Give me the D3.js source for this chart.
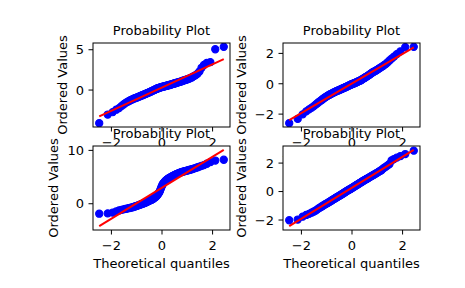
<!DOCTYPE html>
<html>
<head>
<meta charset="utf-8">
<script src="https://cdn.jsdelivr.net/npm/d3@7"></script>
<style>
body { margin: 0; background: #fff; }
svg text { font-family: "DejaVu Sans", sans-serif; font-size: 13px; fill: #000; }
</style>
</head>
<body>
<script>
// ---------------------
// Data (ordered values, 100 samples each)
// ---------------------
var tSmallDf = [
  -4.17, -3.1, -2.8, -2.5, -2.3, -2.05, -1.85, -1.68, -1.55, -1.45,
  -1.35, -1.27, -1.2, -1.13, -1.08, -1.03, -0.98, -0.93, -0.88, -0.83,
  -0.78, -0.74, -0.7, -0.65, -0.61, -0.57, -0.53, -0.49, -0.45, -0.41,
  -0.37, -0.33, -0.29, -0.25, -0.21, -0.17, -0.13, -0.09, -0.05, -0.01,
  0.03, 0.07, 0.1, 0.13, 0.16, 0.19, 0.22, 0.25, 0.28, 0.31,
  0.32, 0.34, 0.36, 0.38, 0.4, 0.42, 0.44, 0.46, 0.48, 0.5,
  0.52, 0.54, 0.57, 0.6, 0.62, 0.65, 0.67, 0.7, 0.72, 0.75,
  0.78, 0.81, 0.84, 0.87, 0.9, 0.93, 0.96, 0.99, 1.02, 1.06,
  1.1, 1.14, 1.18, 1.22, 1.26, 1.31, 1.36, 1.42, 1.5, 1.6,
  1.7, 1.82, 1.98, 2.25, 2.7, 3.05, 3.3, 3.4, 5.0, 5.3
];
var tLargeDf = [
  -2.63, -2.35, -2.05, -1.85, -1.72, -1.62, -1.52, -1.42, -1.33, -1.25,
  -1.18, -1.12, -1.05, -0.99, -0.94, -0.9, -0.85, -0.81, -0.77, -0.74,
  -0.71, -0.68, -0.65, -0.62, -0.6, -0.57, -0.55, -0.52, -0.5, -0.48,
  -0.46, -0.44, -0.42, -0.4, -0.38, -0.36, -0.34, -0.32, -0.3, -0.28,
  -0.26, -0.24, -0.22, -0.2, -0.18, -0.16, -0.14, -0.12, -0.1, -0.08,
  -0.06, -0.05, -0.03, -0.01, 0.0, 0.02, 0.04, 0.06, 0.08, 0.1,
  0.12, 0.14, 0.16, 0.18, 0.2, 0.23, 0.26, 0.29, 0.32, 0.35,
  0.38, 0.41, 0.44, 0.47, 0.5, 0.54, 0.58, 0.62, 0.66, 0.7,
  0.74, 0.77, 0.8, 0.84, 0.88, 0.93, 0.98, 1.03, 1.08, 1.14,
  1.21, 1.28, 1.38, 1.5, 1.62, 1.75, 1.92, 2.1, 2.38, 2.4
];
var normMix = [
  -1.96, -1.9, -1.75, -1.55, -1.35, -1.25, -1.15, -1.07, -1.0, -0.93,
  -0.87, -0.81, -0.75, -0.68, -0.61, -0.55, -0.48, -0.41, -0.35, -0.28,
  -0.22, -0.16, -0.1, -0.04, 0.02, 0.08, 0.14, 0.21, 0.28, 0.35,
  0.42, 0.48, 0.53, 0.59, 0.65, 0.72, 0.79, 0.87, 0.97, 1.09,
  1.15, 1.25, 1.37, 1.53, 1.7, 1.85, 2.05, 2.3, 2.6, 2.9,
  3.22, 3.47, 3.67, 3.82, 3.97, 4.1, 4.22, 4.32, 4.42, 4.52,
  4.6, 4.68, 4.75, 4.82, 4.9, 4.97, 5.04, 5.12, 5.19, 5.26,
  5.32, 5.39, 5.46, 5.52, 5.58, 5.64, 5.7, 5.76, 5.82, 5.88,
  5.93, 5.98, 6.03, 6.08, 6.13, 6.18, 6.24, 6.3, 6.37, 6.45,
  6.54, 6.64, 6.75, 6.87, 7.0, 7.15, 7.4, 7.7, 8.0, 8.15
];
var stdNorm = [
  -2.05, -2.0, -1.8, -1.68, -1.6, -1.52, -1.45, -1.38, -1.3, -1.22,
  -1.16, -1.1, -1.05, -0.99, -0.94, -0.9, -0.86, -0.82, -0.78, -0.74,
  -0.7, -0.66, -0.62, -0.58, -0.55, -0.52, -0.48, -0.45, -0.42, -0.39,
  -0.36, -0.33, -0.3, -0.27, -0.24, -0.21, -0.18, -0.15, -0.12, -0.09,
  -0.06, -0.03, 0.0, 0.03, 0.05, 0.08, 0.1, 0.13, 0.16, 0.18,
  0.21, 0.24, 0.26, 0.29, 0.32, 0.35, 0.38, 0.41, 0.43, 0.46,
  0.49, 0.52, 0.55, 0.58, 0.61, 0.64, 0.67, 0.7, 0.73, 0.76,
  0.79, 0.82, 0.85, 0.88, 0.91, 0.94, 0.98, 1.01, 1.05, 1.08,
  1.12, 1.16, 1.2, 1.24, 1.28, 1.33, 1.38, 1.43, 1.48, 1.58,
  1.65, 1.72, 1.8, 1.9, 2.15, 2.25, 2.35, 2.45, 2.6, 2.84
];

var xTicks = [-2, 0, 2];
var yTicks1 = [0, 5];
var yTicks2 = [-2, 0, 2];
var yTicks3 = [0, 10];
var yTicks4 = [-2, 0, 2];

var titleText = "Probability Plot";
var xLabelText = "Theoretical quantiles";
var yLabelText = "Ordered Values";

// ---------------------
// Layout
// ---------------------
var w = 465, h = 288;
var axW = 137, axH = 84;

var panels = [
  { vals: tSmallDf, yTicks: yTicks1, left: 93,  top: 43 },
  { vals: tLargeDf, yTicks: yTicks2, left: 283, top: 43 },
  { vals: normMix,  yTicks: yTicks3, left: 93,  top: 146 },
  { vals: stdNorm,  yTicks: yTicks4, left: 283, top: 146 }
];

// inverse normal cdf (Acklam)
function normPpf(p) {
  var a = [-3.969683028665376e+01, 2.209460984245205e+02, -2.759285104469687e+02, 1.383577518672690e+02, -3.066479806614716e+01, 2.506628277459239e+00];
  var b = [-5.447609879822406e+01, 1.615858368580409e+02, -1.556989798598866e+02, 6.680131188771972e+01, -1.328068155288572e+01];
  var c = [-7.784894002430293e-03, -3.223964580411365e-01, -2.400758277161838e+00, -2.549732539343734e+00, 4.374664141464968e+00, 2.938163982698783e+00];
  var d = [7.784695709041462e-03, 3.224671290700398e-01, 2.445134137142996e+00, 3.754408661907416e+00];
  var plow = 0.02425, q, r;
  if (p < plow) {
    q = Math.sqrt(-2 * Math.log(p));
    return (((((c[0]*q+c[1])*q+c[2])*q+c[3])*q+c[4])*q+c[5]) / ((((d[0]*q+d[1])*q+d[2])*q+d[3])*q+1);
  } else if (p > 1 - plow) {
    q = Math.sqrt(-2 * Math.log(1 - p));
    return -(((((c[0]*q+c[1])*q+c[2])*q+c[3])*q+c[4])*q+c[5]) / ((((d[0]*q+d[1])*q+d[2])*q+d[3])*q+1);
  }
  q = p - 0.5; r = q * q;
  return (((((a[0]*r+a[1])*r+a[2])*r+a[3])*r+a[4])*r+a[5])*q / (((((b[0]*r+b[1])*r+b[2])*r+b[3])*r+b[4])*r+1);
}

// Filliben order statistic medians -> theoretical quantiles
function theoretical(n) {
  var m = [];
  for (var i = 0; i < n; i++) m.push((i + 1 - 0.3175) / (n + 0.365));
  m[n - 1] = Math.pow(0.5, 1 / n);
  m[0] = 1 - m[n - 1];
  return m.map(normPpf);
}

function linfit(xs, ys) {
  var mx = d3.mean(xs), my = d3.mean(ys), sxy = 0, sxx = 0;
  for (var i = 0; i < xs.length; i++) {
    sxy += (xs[i] - mx) * (ys[i] - my);
    sxx += (xs[i] - mx) * (xs[i] - mx);
  }
  var slope = sxy / sxx;
  return { slope: slope, icpt: my - slope * mx };
}

var svg = d3.select("body").append("svg")
  .attr("width", w).attr("height", h);
svg.append("rect").attr("width", w).attr("height", h).attr("fill", "#fff");

var fmt = d3.format("d");

panels.forEach(function(p, k) {
  var osr = p.vals.slice().sort(d3.ascending);
  var osm = theoretical(osr.length);
  var fit = linfit(osm, osr);
  var lx = d3.extent(osm);
  var ly = lx.map(function(v) { return fit.slope * v + fit.icpt; });

  var xmin = lx[0], xmax = lx[1];
  var ymin = Math.min(d3.min(osr), d3.min(ly));
  var ymax = Math.max(d3.max(osr), d3.max(ly));
  var xpad = (xmax - xmin) * 0.05, ypad = (ymax - ymin) * 0.05;

  var x = d3.scaleLinear().domain([xmin - xpad, xmax + xpad]).range([p.left, p.left + axW]);
  var y = d3.scaleLinear().domain([ymin - ypad, ymax + ypad]).range([p.top + axH, p.top]);

  var g = svg.append("g");

  // axes patch (hides the tick labels of the panel above, as in the original)
  g.append("rect")
    .attr("x", p.left).attr("y", p.top)
    .attr("width", axW).attr("height", axH)
    .attr("fill", "#fff");

  g.append("clipPath").attr("id", "clip" + k)
    .append("rect")
    .attr("x", p.left).attr("y", p.top)
    .attr("width", axW).attr("height", axH);

  var plot = g.append("g").attr("clip-path", "url(#clip" + k + ")");

  plot.selectAll("circle")
    .data(osr)
    .enter()
    .append("circle")
    .attr("cx", function(d, i) { return x(osm[i]); })
    .attr("cy", function(d) { return y(d); })
    .attr("r", 3.6)
    .attr("fill", "#0000ff")
    .attr("stroke", "#0000ff")
    .attr("stroke-width", 1.1);

  plot.append("line")
    .attr("x1", x(lx[0])).attr("y1", y(ly[0]))
    .attr("x2", x(lx[1])).attr("y2", y(ly[1]))
    .attr("stroke", "#ff0000")
    .attr("stroke-width", 2);

  // spines
  g.append("rect")
    .attr("x", p.left).attr("y", p.top)
    .attr("width", axW).attr("height", axH)
    .attr("fill", "none")
    .attr("stroke", "#000")
    .attr("stroke-width", 1);

  var xAxis = g.append("g")
    .attr("transform", "translate(0," + (p.top + axH) + ")")
    .call(d3.axisBottom(x).tickValues(xTicks).tickFormat(fmt).tickSize(4.5).tickPadding(6.3));
  xAxis.select(".domain").remove();

  var yAxis = g.append("g")
    .attr("transform", "translate(" + p.left + ",0)")
    .call(d3.axisLeft(y).tickValues(p.yTicks).tickFormat(fmt).tickSize(4.5).tickPadding(4.5));
  yAxis.select(".domain").remove();
  yAxis.selectAll(".tick text").attr("dy", "0.365em");

  g.selectAll(".tick line").attr("stroke", "#000").attr("stroke-width", 1);
  xAxis.attr("font-size", null).attr("font-family", null);
  yAxis.attr("font-size", null).attr("font-family", null);

  var tw = d3.max(yAxis.selectAll(".tick text").nodes(), function(n) { return n.getBBox().width; });

  g.append("text")
    .attr("x", p.left + axW / 2)
    .attr("y", p.top + axH + 37.7)
    .attr("text-anchor", "middle")
    .text(xLabelText);

  g.append("text")
    .attr("transform", "translate(" + (p.left - 9 - tw - 9) + "," + (p.top + axH / 2) + ") rotate(-90)")
    .attr("text-anchor", "middle")
    .text(yLabelText);

  g.append("text")
    .attr("x", p.left + axW / 2)
    .attr("y", p.top - 8)
    .attr("text-anchor", "middle")
    .text(titleText);
});
</script>
</body>
</html>
